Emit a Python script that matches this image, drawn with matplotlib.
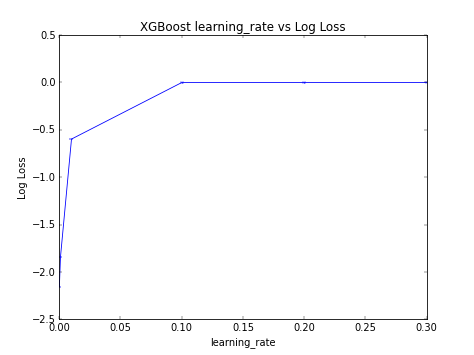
"""
XGBoost learning_rate vs Log Loss plot
"""

import matplotlib
matplotlib.use('Agg')
import matplotlib.pyplot as plt

learning_rate = [0.0001, 0.001, 0.01, 0.1, 0.2, 0.3]
means = [-2.155497, -1.841069, -0.597299, -0.001239, -0.001156, -0.001158]
stds = [0.000128, 0.000474, 0.000577, 0.001490, 0.001140, 0.001188]

plt.style.use('classic')
fig = plt.figure(figsize=(8, 6), dpi=59.25)
plt.errorbar(learning_rate, means, yerr=stds)
plt.title("XGBoost learning_rate vs Log Loss")
plt.xlabel('learning_rate')
plt.ylabel('Log Loss')
plt.savefig('out.png', dpi=59.25)
